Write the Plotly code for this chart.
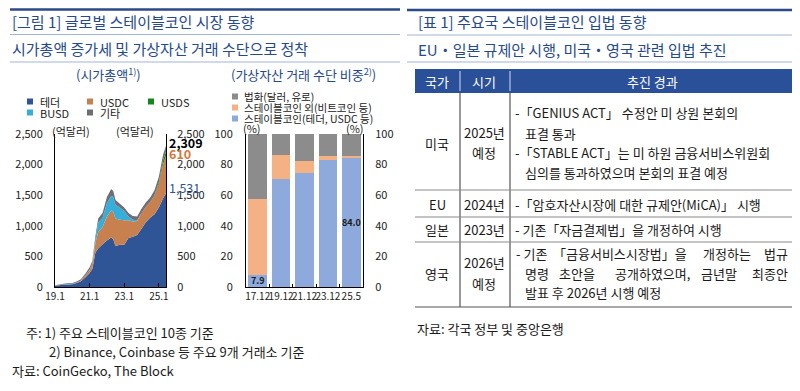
import plotly.graph_objects as go

W, H = 800, 391
FONT = "Noto Sans CJK KR"
NAVY = "#26498C"
TXT = "#1a1a1a"

# ---------------- data: stablecoin market cap (억달러) ----------------
mc_dates = ["2019-01-01", "2019-04-01", "2019-07-01", "2019-10-01",
            "2020-01-01", "2020-04-01", "2020-07-01", "2020-10-01",
            "2021-01-01", "2021-03-01", "2021-05-01", "2021-07-01", "2021-10-01",
            "2022-01-01", "2022-04-01", "2022-05-15", "2022-07-01", "2022-10-01",
            "2023-01-01", "2023-04-01", "2023-07-01", "2023-10-01",
            "2024-01-01", "2024-04-01", "2024-07-01", "2024-10-01",
            "2025-01-01", "2025-04-01", "2025-06-01"]
mc_tether = [20, 28, 40, 41, 45, 65, 95, 155, 230, 300, 560, 630, 700,
             760, 810, 780, 670, 690, 690, 800, 820, 850,
             950, 1060, 1130, 1190, 1300, 1450, 1531]
mc_usdc = [3, 3, 4, 5, 5, 7, 11, 28, 45, 80, 150, 270, 280,
           390, 440, 450, 450, 410, 400, 290, 250, 230,
           260, 250, 260, 300, 380, 560, 610]
mc_busd = [0, 0, 0, 2, 2, 2, 2, 5, 8, 10, 60, 150, 150,
           220, 240, 240, 220, 200, 150, 60, 30, 10,
           0, 0, 0, 0, 0, 0, 0]
mc_usds = [0, 0, 0, 0, 0, 0, 0, 0, 0, 0, 0, 0, 0,
           0, 0, 0, 0, 0, 0, 0, 0, 0,
           0, 0, 0, 10, 30, 60, 75]
mc_other = [5, 8, 10, 12, 12, 15, 20, 30, 40, 40, 50, 70, 80,
            100, 110, 100, 80, 60, 60, 60, 60, 60,
            70, 70, 70, 80, 90, 95, 93]
mc_tick_dates = ["2019-01-01", "2021-01-01", "2023-01-01", "2025-01-01"]
mc_tick_labels = ["19.1", "21.1", "23.1", "25.1"]
mc_yticks = [0, 500, 1000, 1500, 2000, 2500]

# ---------------- data: trading-pair share (%) ----------------
share_periods = ["17.12", "19.12", "21.12", "23.12", "25.5"]
share_stable = [7.9, 70.8, 74.8, 83.0, 84.0]
share_crypto = [49.3, 15.4, 7.7, 2.6, 1.6]
share_fiat = [42.8, 13.8, 17.5, 14.4, 14.4]
share_yticks = [0, 20, 40, 60, 80, 100]

C_TETHER, C_USDC, C_BUSD, C_USDS, C_OTHER = "#2F5597", "#C8804F", "#35AEDB", "#14871A", "#6E6E78"
C_STABLE, C_CRYPTO, C_FIAT = "#8EA9DB", "#F4B183", "#8C8C8C"


def X(p):
    return p / W


def Y(p):
    return 1 - p / H


fig = go.Figure()

for name, vals, col in [("테더", mc_tether, C_TETHER), ("USDC", mc_usdc, C_USDC),
                        ("BUSD", mc_busd, C_BUSD), ("USDS", mc_usds, C_USDS),
                        ("기타", mc_other, C_OTHER)]:
    fig.add_trace(go.Scatter(x=mc_dates, y=vals, name=name, stackgroup="mc",
                             mode="none", fillcolor=col, line=dict(width=0),
                             xaxis="x", yaxis="y", hoverinfo="skip"))
fig.add_trace(go.Scatter(x=[mc_dates[-1]], y=[mc_yticks[0]], xaxis="x", yaxis="y2",
                         mode="markers", marker=dict(opacity=0), hoverinfo="skip"))

for name, vals, col in [("스테이블코인(테더, USDC 등)", share_stable, C_STABLE),
                        ("스테이블코인 외(비트코인 등)", share_crypto, C_CRYPTO),
                        ("법화(달러, 유로)", share_fiat, C_FIAT)]:
    fig.add_trace(go.Bar(x=share_periods, y=vals, name=name,
                         marker=dict(color=col, line=dict(width=0)),
                         xaxis="x3", yaxis="y3", hoverinfo="skip"))
fig.add_trace(go.Scatter(x=[share_periods[0]], y=[share_yticks[0]], xaxis="x3", yaxis="y4",
                         mode="markers", marker=dict(opacity=0), hoverinfo="skip"))

ydom = [1 - 287 / H, 1 - 134 / H]
tfont = dict(family=FONT, size=11, color="#222")
xfont = dict(family=FONT, size=10, color="#222")
common_y = dict(showgrid=False, zeroline=False, showline=True, linecolor="#000",
                linewidth=1, ticks="", tickfont=tfont, automargin=False)

ann = []
shapes = []


def text(x, y, s, size=13, color=TXT, anchor="left", bold=False):
    if bold:
        s = f"<b>{s}</b>"
    ann.append(dict(x=X(x), y=Y(y), xref="paper", yref="paper", text=s, showarrow=False,
                    xanchor=anchor, yanchor="middle",
                    font=dict(family=FONT, size=size, color=color)))


def hline(x0, x1, y, color, w=1):
    shapes.append(dict(type="line", xref="paper", yref="paper", x0=X(x0), x1=X(x1),
                       y0=Y(y), y1=Y(y), line=dict(color=color, width=w)))


def vline(x, y0, y1, color, w=1):
    shapes.append(dict(type="line", xref="paper", yref="paper", x0=X(x), x1=X(x),
                       y0=Y(y0), y1=Y(y1), line=dict(color=color, width=w)))


def rect(x0, y0, x1, y1, color):
    shapes.append(dict(type="rect", xref="paper", yref="paper", x0=X(x0), x1=X(x1),
                       y0=Y(y1), y1=Y(y0), fillcolor=color, line=dict(width=0)))


# ---- left panel titles ----
hline(10, 400, 9.5, "#2B4A88", 2.5)
text(10, 21, "[그림 1] 글로벌 스테이블코인 시장 동향", 15, NAVY)
hline(10, 400, 34.5, "#A3B5D6", 1)
text(10, 48, "시가총액 증가세 및 가상자산 거래 수단으로 정착", 15, NAVY)
hline(10, 400, 62, "#A3B5D6", 1)
text(108, 74, "(시가총액<sup>1)</sup>)", 13, NAVY, "center")
text(303, 74, "(가상자산 거래 수단 비중<sup>2)</sup>)", 13, NAVY, "center")

# ---- area legend ----
for (sx, sy, lab, col) in [(27, 101.5, "테더", C_TETHER), (87, 101.5, "USDC", C_USDC),
                           (148, 101.5, "USDS", C_USDS), (27, 112.5, "BUSD", C_BUSD),
                           (87, 112.5, "기타", C_OTHER)]:
    rect(sx, sy - 3, sx + 6, sy + 3, col)
    text(sx + 11, sy + 0.5, lab, 11, "#222")
text(71, 131, "(억달러)", 11, "#222", "center")
text(135, 131, "(억달러)", 11, "#222", "center")

# end-value labels
mc_total_end = mc_tether[-1] + mc_usdc[-1] + mc_busd[-1] + mc_usds[-1] + mc_other[-1]
for yv, s, col, b, sh in [(mc_total_end, f"{mc_total_end:,}", "#000", True, 3),
                          (mc_tether[-1] + mc_usdc[-1], f"{mc_usdc[-1]:,}", "#D2783A", True, 2),
                          (mc_tether[-1], f"{mc_tether[-1]:,}", C_TETHER, False, 6)]:
    ann.append(dict(x=X(167), y=yv, xref="paper", yref="y", yshift=sh, showarrow=False,
                    xanchor="left", yanchor="middle",
                    text=f"<b>{s}</b>" if b else s,
                    font=dict(family=FONT, size=12.5, color=col)))

# ---- bar legend ----
for (sy, lab, col) in [(96.5, "법화(달러, 유로)", C_FIAT),
                       (107.5, "스테이블코인 외(비트코인 등)", C_CRYPTO),
                       (118.5, "스테이블코인(테더, USDC 등)", C_STABLE)]:
    rect(232, sy - 3, 238, sy + 3, col)
    text(242, sy, lab, 10.5, "#222")
text(252, 128, "(%)", 11, "#222", "center")
text(355, 128, "(%)", 11, "#222", "center")

# bar value labels (x given as category index)
for idx in [0, 4]:
    ann.append(dict(x=idx, y=share_stable[idx] / 2, xref="x3", yref="y3",
                    showarrow=False, text=f"<b>{share_stable[idx]:.1f}</b>",
                    font=dict(family=FONT, size=9, color="#1a1a1a")))

# ---- footnotes ----
text(24, 332, "주: 1) 주요 스테이블코인 10종 기준", 13)
text(47, 351, "2) Binance, Coinbase 등 주요 9개 거래소 기준", 13)
text(10, 370, "자료: CoinGecko, The Block", 13)

# ---- right panel: table ----
hline(407, 792, 10, "#2B4A88", 2.5)
text(416, 22, "[표 1] 주요국 스테이블코인 입법 동향", 15, NAVY)
hline(407, 792, 35, "#A3B5D6", 1)
text(416, 50, "EU・일본 규제안 시행, 미국・영국 관련 입법 추진", 15, NAVY)
hline(407, 792, 62, "#A3B5D6", 1)

rect(415, 69, 792, 93, "#2A5099")
vline(460, 71, 91, "#D0DAEC", 1)
vline(510, 71, 91, "#D0DAEC", 1)
text(437, 81, "국가", 13, "white", "center")
text(484, 81, "시기", 13, "white", "center")
text(652, 81, "추진 경과", 13, "white", "center")

vline(460, 93, 307, "#333", 1)
vline(510, 93, 307, "#333", 1)
hline(415, 792, 190, "#8a8a8a", 1)
hline(415, 792, 217, "#8a8a8a", 1)
hline(415, 792, 242, "#8a8a8a", 1)
hline(415, 792, 307, "#555", 1.2)

# 미국
text(437, 143, "미국", 13, anchor="center")
text(484, 132, "2025년", 13, anchor="center")
text(484, 153, "예정", 13, anchor="center")
text(513, 112, "-「GENIUS ACT」 수정안 미 상원 본회의", 13)
text(523, 133, "표결 통과", 13)
text(513, 153, "-「STABLE ACT」는 미 하원 금융서비스위원회", 13)
text(523, 172, "심의를 통과하였으며 본회의 표결 예정", 13)
# EU
text(437, 204, "EU", 13, anchor="center")
text(484, 204, "2024년", 13, anchor="center")
text(513, 204, "-「암호자산시장에 대한 규제안(MiCA)」 시행", 13)
# 일본
text(437, 229, "일본", 13, anchor="center")
text(484, 229, "2023년", 13, anchor="center")
text(513, 229, "- 기존「자금결제법」을 개정하여 시행", 13)
# 영국
text(437, 273, "영국", 13, anchor="center")
text(484, 262, "2026년", 13, anchor="center")
text(484, 283, "예정", 13, anchor="center")
text(514, 253, "- 기존", 13)
text(620, 253, "「금융서비스시장법」을", 13, anchor="center")
text(727, 253, "개정하는", 13, anchor="center")
text(790, 253, "법규", 13, anchor="right")
text(523, 273, "명령", 13)
text(577, 273, "초안을", 13, anchor="center")
text(652, 273, "공개하였으며,", 13, anchor="center")
text(719, 273, "금년말", 13, anchor="center")
text(790, 273, "최종안", 13, anchor="right")
text(523, 292, "발표 후 2026년 시행 예정", 13)

text(415, 328, "자료: 각국 정부 및 중앙은행", 13)

fig.update_layout(
    template="none",
    width=W, height=H, margin=dict(l=0, r=0, t=0, b=0, pad=0, autoexpand=False),
    paper_bgcolor="white", plot_bgcolor="white",
    barmode="stack", bargap=0.2, showlegend=False,
    font=dict(family=FONT, color="#222"),
    xaxis=dict(domain=[55 / W, 166 / W], anchor="y", type="date",
               range=["2019-01-01", "2025-06-01"], tickvals=mc_tick_dates,
               ticktext=mc_tick_labels, ticks="inside", ticklen=4, tickcolor="#000",
               showline=True, linecolor="#000", linewidth=1, showgrid=False,
               zeroline=False, tickfont=xfont, automargin=False),
    yaxis=dict(domain=ydom, anchor="x", range=[0, 2500], tickvals=mc_yticks,
               tickformat=",", ticklabelstandoff=9, **common_y),
    yaxis2=dict(overlaying="y", anchor="x", side="right", range=[0, 2500],
                tickvals=mc_yticks, tickformat=",", ticklabelstandoff=8, **common_y),
    xaxis3=dict(domain=[246 / W, 363 / W], anchor="y3", type="category",
                range=[-0.5, len(share_periods) - 0.5],
                ticks="inside", tickson="boundaries", ticklen=3, tickcolor="#000",
                showline=True, linecolor="#000", linewidth=1, showgrid=False,
                zeroline=False, tickfont=xfont, automargin=False, tickangle=0),
    yaxis3=dict(domain=ydom, anchor="x3", range=[0, 100], tickvals=share_yticks,
                ticklabelstandoff=10, **common_y),
    yaxis4=dict(overlaying="y3", anchor="x3", side="right", range=[0, 100],
                tickvals=share_yticks, ticklabelstandoff=9, **common_y),
    annotations=ann, shapes=shapes,
)

fig.write_html("out.html",
               config={"displayModeBar": False},
               post_script="document.body.style.margin='0';"
                           "document.body.style.overflow='hidden';")
